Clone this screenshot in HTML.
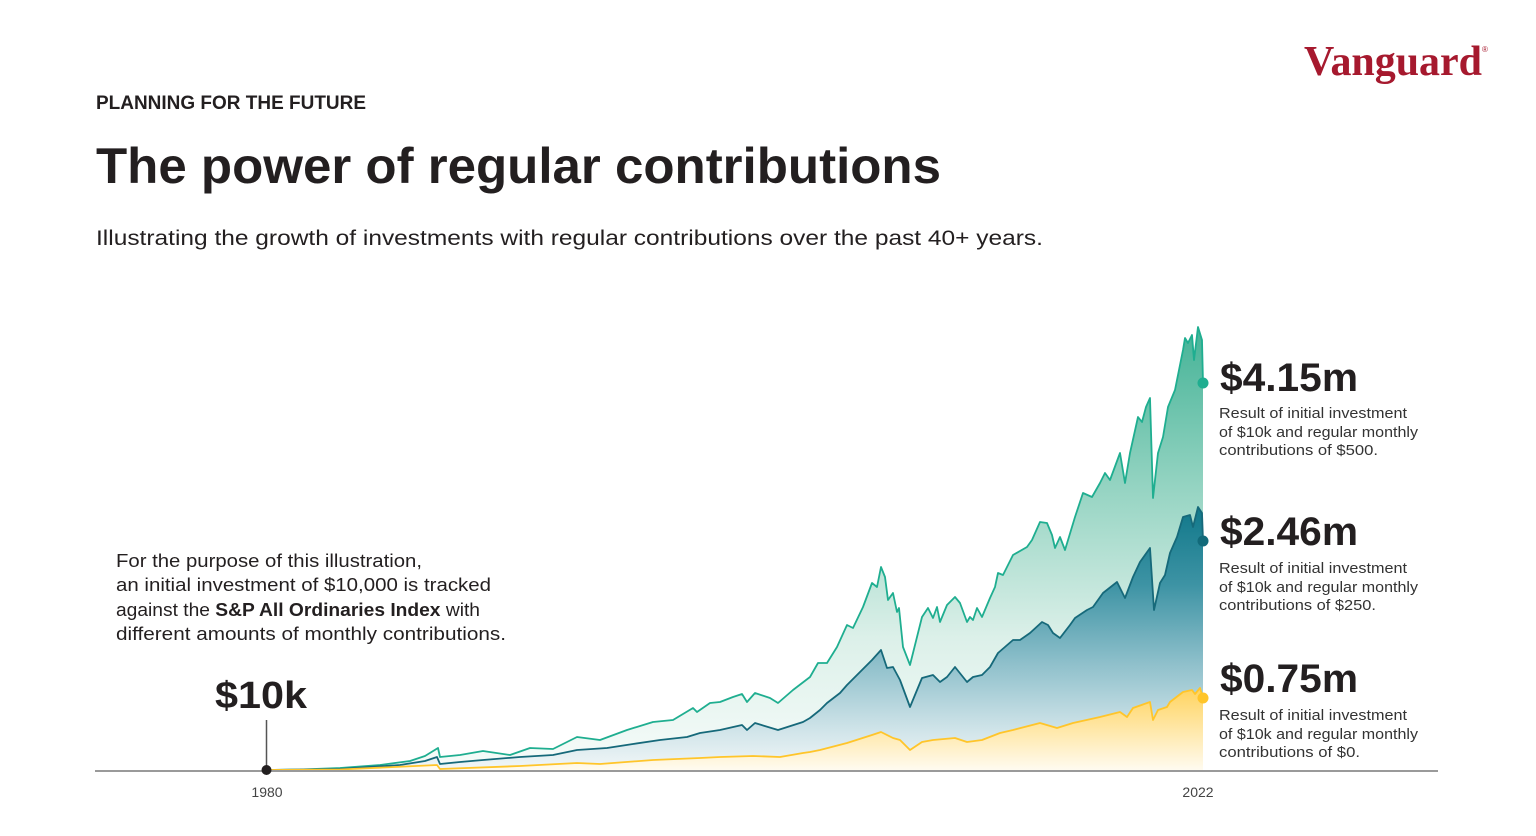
<!DOCTYPE html>
<html><head><meta charset="utf-8"><style>
html,body{margin:0;padding:0;background:#fff;width:1536px;height:836px;overflow:hidden}
svg{display:block}
</style></head><body>
<svg width="1536" height="836" viewBox="0 0 1536 836" xmlns="http://www.w3.org/2000/svg" font-family="Liberation Sans, sans-serif" fill="#231f20">
<defs>
<linearGradient id="gT" gradientUnits="userSpaceOnUse" x1="0" y1="330" x2="0" y2="770">
<stop offset="0" stop-color="#45b397"/><stop offset="0.35" stop-color="#93d3c1"/><stop offset="0.7" stop-color="#dcf0e9"/><stop offset="1" stop-color="#f7fcfa"/>
</linearGradient>
<linearGradient id="gD" gradientUnits="userSpaceOnUse" x1="0" y1="505" x2="0" y2="770">
<stop offset="0" stop-color="#0f7789"/><stop offset="0.3" stop-color="#3d93a4"/><stop offset="0.6" stop-color="#8fc0cb"/><stop offset="0.85" stop-color="#d0e4e9"/><stop offset="1" stop-color="#f2f7f8"/>
</linearGradient>
<linearGradient id="gY" gradientUnits="userSpaceOnUse" x1="0" y1="686" x2="0" y2="770">
<stop offset="0" stop-color="#ffd25a"/><stop offset="1" stop-color="#fffbf0"/>
</linearGradient>
</defs>

<!-- Logo -->
<text x="1304" y="75" font-family="Liberation Serif, serif" font-weight="bold" font-size="42" fill="#a6192e" textLength="178" lengthAdjust="spacingAndGlyphs">Vanguard</text>
<text x="1482" y="52" font-size="8" fill="#a6192e">®</text>

<!-- Headings -->
<text x="96" y="109" font-weight="bold" font-size="19" textLength="270" lengthAdjust="spacingAndGlyphs">PLANNING FOR THE FUTURE</text>
<text x="96" y="183" font-weight="bold" font-size="50" textLength="845" lengthAdjust="spacingAndGlyphs">The power of regular contributions</text>
<text x="96" y="245" font-size="21" textLength="947" lengthAdjust="spacingAndGlyphs">Illustrating the growth of investments with regular contributions over the past 40+ years.</text>

<!-- Left paragraph -->
<g font-size="18">
<text x="116" y="567" textLength="306" lengthAdjust="spacingAndGlyphs">For the purpose of this illustration,</text>
<text x="116" y="591" textLength="375" lengthAdjust="spacingAndGlyphs">an initial investment of $10,000 is tracked</text>
<text x="116" y="616" textLength="364" lengthAdjust="spacingAndGlyphs">against the <tspan font-weight="bold">S&amp;P All Ordinaries Index</tspan> with</text>
<text x="116" y="640" textLength="390" lengthAdjust="spacingAndGlyphs">different amounts of monthly contributions.</text>
</g>

<!-- $10k -->
<text x="215" y="708" font-weight="bold" font-size="38" textLength="92" lengthAdjust="spacingAndGlyphs">$10k</text>
<line x1="266.5" y1="720" x2="266.5" y2="770" stroke="#555" stroke-width="1.5"/>

<!-- Fills -->
<path fill="url(#gT)" d="M266,770 L300,769.5 340,768 380,765 410,761 425,756 438,748 440,757 460,755 483,751 510,755 530,748 553,749 577,737 600,740 627,730 653,722 673,720 693,708 697,712 710,703 720,702 733,697 742,694 747,702 755,693 770,698 778,703 793,690 810,677 818,663 827,663 837,647 847,625 853,628 863,607 872,583 877,587 881,567 885,577 888,600 893,593 897,612 899,608 903,647 910,665 922,617 928,608 933,618 937,607 940,622 947,605 955,597 960,603 967,622 970,617 973,620 977,608 982,617 990,598 995,587 998,573 1003,575 1013,555 1027,547 1032,540 1040,522 1047,523 1052,535 1055,548 1060,537 1065,550 1075,517 1083,493 1092,497 1100,483 1105,473 1110,480 1120,453 1125,483 1130,453 1138,417 1142,422 1146,407 1150,398 1153,498 1158,453 1163,437 1168,407 1175,390 1183,350 1185,338 1188,343 1192,335 1194,360 1198,327 1202,340 1203,383 L1203,770 Z"/>
<path fill="url(#gD)" d="M266,770 L340,769 400,765 425,761 437,757 440,764 460,762 483,760 520,757 553,755 577,750 607,748 633,744 660,740 687,737 700,733 720,730 742,725 747,730 755,723 778,730 803,722 810,718 820,710 827,703 840,693 847,685 867,665 872,660 881,650 887,668 893,667 900,680 910,707 922,678 933,675 940,682 947,677 955,667 967,682 973,677 982,675 990,667 998,653 1013,640 1020,640 1030,633 1042,622 1048,625 1053,633 1060,638 1070,625 1075,618 1087,610 1093,607 1103,593 1117,582 1125,598 1133,577 1140,562 1150,548 1154,610 1160,583 1165,575 1170,553 1177,537 1183,517 1190,515 1193,527 1198,507 1202,513 1203,541 L1203,770 Z"/>
<path fill="url(#gY)" d="M266,770 L340,769.5 437,765 440,769 520,766 577,763 600,764 653,760 700,758 720,757 753,756 780,757 803,753 810,752 820,750 847,743 872,735 881,732 893,738 900,740 910,750 922,742 933,740 955,738 967,742 982,740 1000,733 1013,730 1040,723 1057,728 1073,723 1100,717 1120,712 1127,717 1133,708 1150,702 1153,720 1158,710 1167,707 1170,702 1183,692 1192,690 1195,694 1200,688 1203,698 L1203,770 Z"/>

<!-- Lines -->
<polyline fill="none" stroke="#1fae90" stroke-width="1.8" stroke-linejoin="round" points="266,770 300,769.5 340,768 380,765 410,761 425,756 438,748 440,757 460,755 483,751 510,755 530,748 553,749 577,737 600,740 627,730 653,722 673,720 693,708 697,712 710,703 720,702 733,697 742,694 747,702 755,693 770,698 778,703 793,690 810,677 818,663 827,663 837,647 847,625 853,628 863,607 872,583 877,587 881,567 885,577 888,600 893,593 897,612 899,608 903,647 910,665 922,617 928,608 933,618 937,607 940,622 947,605 955,597 960,603 967,622 970,617 973,620 977,608 982,617 990,598 995,587 998,573 1003,575 1013,555 1027,547 1032,540 1040,522 1047,523 1052,535 1055,548 1060,537 1065,550 1075,517 1083,493 1092,497 1100,483 1105,473 1110,480 1120,453 1125,483 1130,453 1138,417 1142,422 1146,407 1150,398 1153,498 1158,453 1163,437 1168,407 1175,390 1183,350 1185,338 1188,343 1192,335 1194,360 1198,327 1202,340 1203,383"/>
<polyline fill="none" stroke="#16697a" stroke-width="1.8" stroke-linejoin="round" points="266,770 340,769 400,765 425,761 437,757 440,764 460,762 483,760 520,757 553,755 577,750 607,748 633,744 660,740 687,737 700,733 720,730 742,725 747,730 755,723 778,730 803,722 810,718 820,710 827,703 840,693 847,685 867,665 872,660 881,650 887,668 893,667 900,680 910,707 922,678 933,675 940,682 947,677 955,667 967,682 973,677 982,675 990,667 998,653 1013,640 1020,640 1030,633 1042,622 1048,625 1053,633 1060,638 1070,625 1075,618 1087,610 1093,607 1103,593 1117,582 1125,598 1133,577 1140,562 1150,548 1154,610 1160,583 1165,575 1170,553 1177,537 1183,517 1190,515 1193,527 1198,507 1202,513 1203,541"/>
<polyline fill="none" stroke="#ffc52a" stroke-width="1.8" stroke-linejoin="round" points="266,770 340,769.5 437,765 440,769 520,766 577,763 600,764 653,760 700,758 720,757 753,756 780,757 803,753 810,752 820,750 847,743 872,735 881,732 893,738 900,740 910,750 922,742 933,740 955,738 967,742 982,740 1000,733 1013,730 1040,723 1057,728 1073,723 1100,717 1120,712 1127,717 1133,708 1150,702 1153,720 1158,710 1167,707 1170,702 1183,692 1192,690 1195,694 1200,688 1203,698"/>

<!-- Axis -->
<line x1="95" y1="771" x2="1438" y2="771" stroke="#9a9a9a" stroke-width="2"/>
<circle cx="266.5" cy="770" r="5" fill="#231f20"/>
<text x="267" y="797" font-size="14" fill="#444" text-anchor="middle">1980</text>
<text x="1198" y="797" font-size="14" fill="#444" text-anchor="middle">2022</text>

<!-- End dots -->
<circle cx="1203" cy="383" r="5.5" fill="#1fae90"/>
<circle cx="1203" cy="541" r="5.5" fill="#126a7a"/>
<circle cx="1203" cy="698" r="5.5" fill="#ffc52a"/>

<!-- Right labels -->
<text x="1220" y="391" font-weight="bold" font-size="40" textLength="138" lengthAdjust="spacingAndGlyphs">$4.15m</text>
<g font-size="15" fill="#333">
<text x="1219" y="418" textLength="188" lengthAdjust="spacingAndGlyphs">Result of initial investment</text>
<text x="1219" y="437" textLength="199" lengthAdjust="spacingAndGlyphs">of $10k and regular monthly</text>
<text x="1219" y="455" textLength="159" lengthAdjust="spacingAndGlyphs">contributions of $500.</text>
</g>
<text x="1220" y="545" font-weight="bold" font-size="40" textLength="138" lengthAdjust="spacingAndGlyphs">$2.46m</text>
<g font-size="15" fill="#333">
<text x="1219" y="573" textLength="188" lengthAdjust="spacingAndGlyphs">Result of initial investment</text>
<text x="1219" y="592" textLength="199" lengthAdjust="spacingAndGlyphs">of $10k and regular monthly</text>
<text x="1219" y="610" textLength="157" lengthAdjust="spacingAndGlyphs">contributions of $250.</text>
</g>
<text x="1220" y="692" font-weight="bold" font-size="40" textLength="138" lengthAdjust="spacingAndGlyphs">$0.75m</text>
<g font-size="15" fill="#333">
<text x="1219" y="720" textLength="188" lengthAdjust="spacingAndGlyphs">Result of initial investment</text>
<text x="1219" y="739" textLength="199" lengthAdjust="spacingAndGlyphs">of $10k and regular monthly</text>
<text x="1219" y="757" textLength="141" lengthAdjust="spacingAndGlyphs">contributions of $0.</text>
</g>
</svg>
</body></html>
